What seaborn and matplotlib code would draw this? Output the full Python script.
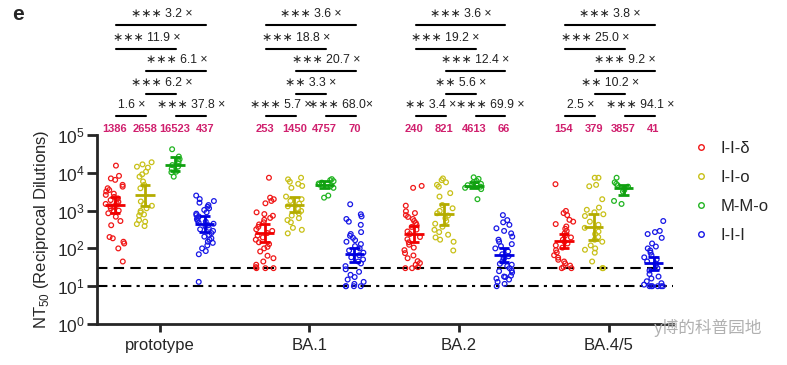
import numpy as np
import pandas as pd
import matplotlib
matplotlib.use('Agg')
import matplotlib.pyplot as plt
import matplotlib.transforms as mtransforms
from matplotlib.lines import Line2D
import seaborn as sns

variants = ['prototype', 'BA.1', 'BA.2', 'BA.4/5']
groups = ['I-I-δ', 'I-I-ο', 'M-M-ο', 'I-I-I']
colors = ['#f01818', '#c8c018', '#22b422', '#1818e6']
line_colors = ['#f00000', '#b4ac00', '#10a010', '#0000e0']

# NT50 values
proto_red = [15500, 8300, 7100, 6500, 4800, 4300, 3900, 3500, 3200, 2800, 2600, 2300, 2100, 1900,
             1700, 1560, 1500, 1400, 1300, 1270, 1150, 1000, 980, 850, 690, 530, 410, 200, 185,
             150, 135, 100, 45]
proto_yel = [19000, 16700, 14500, 13700, 10700, 9100, 7900, 5900, 4800, 3900, 1740, 1490, 1340,
             1150, 980, 890, 790, 740, 560, 510, 440, 390]
proto_grn = [42000, 26900, 23000, 20300, 17700, 16000, 14600, 12600, 10700, 10300, 7900]
proto_blu = [2500, 2020, 1790, 1620, 1400, 1270, 1150, 1040, 900, 830, 760, 700, 650, 600, 550,
             510, 480, 450, 410, 380, 350, 320, 290, 255, 225, 205, 185, 170, 150, 140, 120, 100,
             85, 70, 13]

ba1_red = [7400, 2200, 2000, 1800, 1560, 900, 810, 730, 640, 570, 490, 430, 370, 320, 290, 255,
           220, 195, 170, 145, 130, 110, 100, 83, 64, 55, 45, 37, 32, 30, 30, 30]
ba1_yel = [7400, 6700, 5800, 5100, 4500, 4000, 2350, 2000, 1800, 1520, 1300, 1110, 980, 850, 740,
           630, 560, 490, 350, 310, 250]
ba1_grn = [6800, 6400, 6000, 5500, 5200, 4900, 4500, 4000, 2500, 2200]
ba1_blu = [1470, 800, 700, 600, 510, 420, 270, 240, 215, 190, 165, 150, 130, 115, 100, 88, 77, 66,
           58, 51, 45, 40, 34, 28, 24, 20, 17.5, 15, 13, 11.5, 10, 10, 10, 10]

ba2_red = [4500, 4000, 1350, 960, 860, 760, 680, 600, 530, 470, 420, 370, 315, 280, 240, 200, 175,
           145, 125, 105, 90, 75, 65, 55, 46, 41, 37, 32, 30, 30]
ba2_yel = [7100, 6400, 5600, 4800, 4300, 2900, 2350, 1400, 1150, 980, 850, 740, 630, 530, 450, 375,
           310, 270, 230, 195, 170, 150, 88]
ba2_grn = [7600, 6900, 6100, 5600, 5100, 4700, 4300, 4000, 3700, 2000]
ba2_blu = [760, 560, 490, 420, 340, 290, 250, 205, 170, 150, 130, 115, 100, 83, 70, 62, 55, 53, 45,
           39, 37, 34, 30, 26, 25, 23, 19, 18, 17.5, 16, 15, 13, 11.5, 10]

ba45_red = [5000, 980, 860, 760, 570, 510, 440, 380, 330, 290, 250, 215, 195, 170, 150, 135, 120,
            105, 90, 78, 66, 57, 50, 45, 40, 35, 32, 30, 30]
ba45_yel = [7400, 7400, 4800, 4400, 2000, 1200, 1050, 900, 800, 720, 510, 420, 350, 280, 240, 200,
            170, 150, 120, 100, 92, 77, 45, 30, 30]
ba45_grn = [7400, 5600, 5100, 4700, 4300, 3900, 3500, 3200, 1800, 1500]
ba45_blu = [530, 290, 270, 240, 190, 135, 112, 100, 88, 77, 66, 58, 51, 45, 40, 35, 30, 26, 21, 18,
            16, 13.5, 12, 11, 10, 10, 10, 10, 10, 10]

# geometric means and 95% CI
gmt_proto = [1386, 2658, 16523, 437]
gmt_ba1 = [253, 1450, 4757, 70]
gmt_ba2 = [240, 821, 4613, 66]
gmt_ba45 = [154, 379, 3857, 41]
ci_lo = [[850, 1340, 11200, 270], [145, 900, 3900, 45], [150, 420, 3900, 45], [100, 170, 2600, 27]]
ci_hi = [[2300, 4900, 25600, 740], [430, 2350, 6000, 105], [380, 1500, 5600, 100], [235, 800, 4700, 60]]

# fold changes between groups
pairs = [(0, 3), (0, 2), (1, 3), (1, 2), (0, 1), (2, 3)]
stats_proto = ['∗∗∗ 3.2 ×', '∗∗∗ 11.9 ×', '∗∗∗ 6.1 ×', '∗∗∗ 6.2 ×', '1.6 ×', '∗∗∗ 37.8 ×']
stats_ba1 = ['∗∗∗ 3.6 ×', '∗∗∗ 18.8 ×', '∗∗∗ 20.7 ×', '∗∗ 3.3 ×', '∗∗∗ 5.7 ×', '∗∗∗ 68.0×']
stats_ba2 = ['∗∗∗ 3.6 ×', '∗∗∗ 19.2 ×', '∗∗∗ 12.4 ×', '∗∗ 5.6 ×', '∗∗ 3.4 ×', '∗∗∗ 69.9 ×']
stats_ba45 = ['∗∗∗ 3.8 ×', '∗∗∗ 25.0 ×', '∗∗∗ 9.2 ×', '∗∗ 10.2 ×', '2.5 ×', '∗∗∗ 94.1 ×']

lod_dash = 30
lod_dashdot = 10

series = [[proto_red, proto_yel, proto_grn, proto_blu],
          [ba1_red, ba1_yel, ba1_grn, ba1_blu],
          [ba2_red, ba2_yel, ba2_grn, ba2_blu],
          [ba45_red, ba45_yel, ba45_grn, ba45_blu]]
rows = []
for v, per_group in zip(variants, series):
    for g, vals in zip(groups, per_group):
        for val in vals:
            rows.append((v, g, val))
df = pd.DataFrame(rows, columns=['variant', 'group', 'nt50'])
gmts = [gmt_proto, gmt_ba1, gmt_ba2, gmt_ba45]
stats = [stats_proto, stats_ba1, stats_ba2, stats_ba45]

sns.set_style('ticks')
plt.rcParams['font.family'] = ['Liberation Sans', 'DejaVu Sans']
plt.rcParams['mathtext.fontset'] = 'custom'
plt.rcParams['mathtext.rm'] = 'Liberation Sans'

W, H = 787, 365
fig = plt.figure(figsize=(7.87, 3.65), dpi=100)
ax = fig.add_axes([97 / W, 1 - 324 / H, (673 - 97) / W, (324 - 135) / H])

np.random.seed(3)  # fixed jitter
sns.stripplot(data=df, x='variant', y='nt50', hue='group', order=variants, hue_order=groups,
              palette=colors, dodge=True, jitter=0.26, log_scale=True, size=3.4,
              linewidth=0.9, legend=False, ax=ax, zorder=3)
for coll in ax.collections:
    fc = coll.get_facecolors()
    coll.set_edgecolors(fc)
    coll.set_facecolors('none')

width = 0.8
offs = [(i - 1.5) * width / 4 for i in range(4)]

# geometric mean with CI
for vi in range(4):
    for gi in range(4):
        x = vi + offs[gi]
        c = line_colors[gi]
        ax.hlines(gmts[vi][gi], x - 0.065, x + 0.065, color=c, lw=2, zorder=5)
        ax.vlines(x, ci_lo[vi][gi], ci_hi[vi][gi], color=c, lw=2, zorder=5)
        ax.hlines([ci_lo[vi][gi], ci_hi[vi][gi]], x - 0.035, x + 0.035, color=c, lw=2, zorder=5)

ax.axhline(lod_dash, color='black', lw=1.5, ls=(0, (5, 3)), zorder=2)
ax.axhline(lod_dashdot, color='black', lw=1.5, ls=(0, (5, 2.5, 1.5, 2.5)), zorder=2)

ax.set_ylim(1, 1e5)
ax.set_xlim(-0.42, 3.43)
ax.set_yticks([1, 10, 100, 1e3, 1e4, 1e5])
ax.set_xlabel('')
ax.set_ylabel('NT$_{50}$ (Reciprocal Dilutions)', fontsize=12, labelpad=4)
ax.tick_params(axis='y', which='major', length=7, width=2, labelsize=12.5, pad=2)
ax.tick_params(axis='y', which='minor', length=4, width=1.3)
ax.tick_params(axis='x', length=6, width=2, labelsize=12, pad=4)
for s in ['left', 'bottom']:
    ax.spines[s].set_linewidth(2)
sns.despine(ax=ax)

# annotations above the axes
trans = mtransforms.blended_transform_factory(ax.transData, fig.transFigure)
line_y = [25, 49, 71, 94, 116, 116]
for vi in range(4):
    for gi in range(4):
        ax.text(vi + offs[gi], 1 - 129 / H, str(gmts[vi][gi]), transform=trans, ha='center',
                va='center', fontsize=8, weight='bold', color='#d0206e')
    for (a, b), lab, ly in zip(pairs, stats[vi], line_y):
        x0, x1 = vi + offs[a] + 0.01, vi + offs[b] + 0.01
        ax.plot([x0, x1], [1 - ly / H, 1 - ly / H], transform=trans, color='black', lw=1.5,
                clip_on=False)
        ax.text((x0 + x1) / 2, 1 - (ly - 11) / H, lab, transform=trans, ha='center',
                va='center', fontsize=8.8, color='#222222')

handles = [Line2D([], [], marker='o', ls='', mfc='none', mec=c, mew=1, markersize=4)
           for c in colors]
ax.legend(handles, groups, loc='upper left', bbox_to_anchor=(684 / W, 1 - 134 / H),
          bbox_transform=fig.transFigure, frameon=False, fontsize=12, handlelength=1.2,
          handletextpad=0.6, labelspacing=0.85, borderaxespad=0)

fig.text(12 / W, 1 - 14 / H, 'e', fontsize=15, weight='bold', va='center')
fig.text(762 / W, 1 - 328 / H, 'y博的科普园地', ha='right', va='center', fontsize=12,
         color='#b0b0b0', family=['Noto Sans CJK SC', 'DejaVu Sans'])

fig.savefig('out.png', dpi=100)
